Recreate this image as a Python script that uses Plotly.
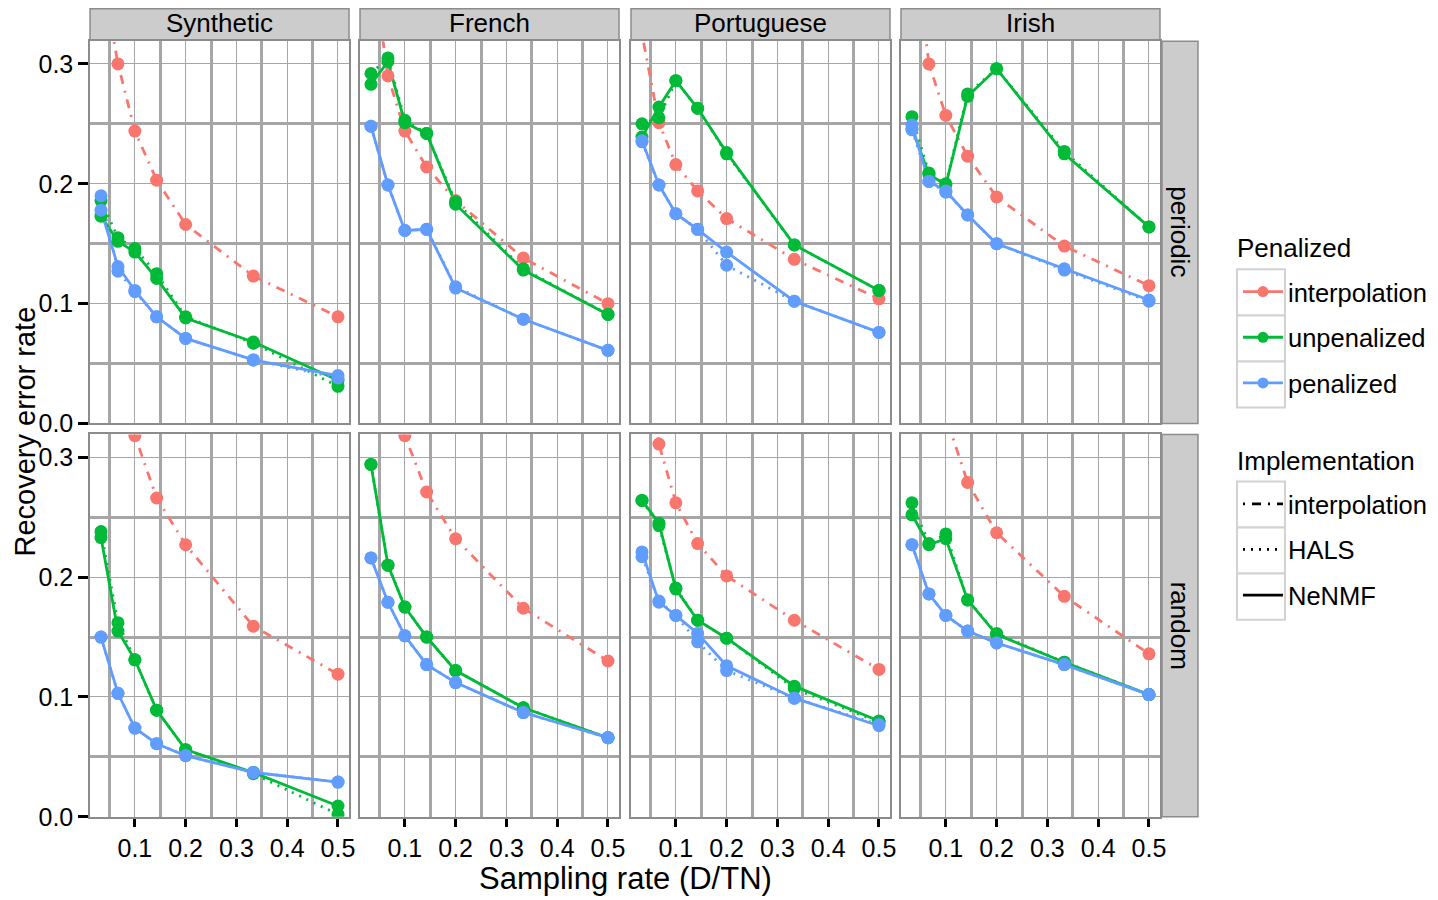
import plotly.graph_objects as go

# sampling rates D/TN
sampling = [0.0333, 0.0667, 0.1, 0.1429, 0.2, 0.3333, 0.5]

datasets = ["Synthetic", "French", "Portuguese", "Irish"]
schemes = ["periodic", "random"]

# --- periodic sampling ---
syn_per_interp = [0.38, 0.300, 0.244, 0.203, 0.166, 0.123, 0.089]
syn_per_unpen_hals = [0.186, 0.155, 0.146, 0.125, 0.089, 0.067, 0.031]
syn_per_unpen_nenmf = [0.173, 0.152, 0.143, 0.121, 0.088, 0.068, 0.036]
syn_per_pen_hals = [0.190, 0.127, 0.110, 0.089, 0.071, 0.053, 0.038]
syn_per_pen_nenmf = [0.178, 0.131, 0.111, 0.089, 0.071, 0.053, 0.040]

fr_per_interp = [0.39, 0.290, 0.244, 0.214, 0.186, 0.138, 0.100]
fr_per_unpen_hals = [0.292, 0.305, 0.253, 0.242, 0.185, 0.129, 0.091]
fr_per_unpen_nenmf = [0.283, 0.302, 0.251, 0.242, 0.183, 0.128, 0.091]
fr_per_pen_hals = [0.248, 0.199, 0.161, 0.162, 0.114, 0.087, 0.061]
fr_per_pen_nenmf = [0.248, 0.199, 0.161, 0.162, 0.113, 0.087, 0.061]

pt_per_interp = [0.325, 0.251, 0.216, 0.194, 0.171, 0.137, 0.104]
pt_per_unpen_hals = [0.250, 0.255, 0.286, 0.263, 0.225, 0.149, 0.111]
pt_per_unpen_nenmf = [0.239, 0.264, 0.286, 0.263, 0.226, 0.149, 0.111]
pt_per_pen_hals = [0.235, 0.199, 0.175, 0.162, 0.132, 0.102, 0.076]
pt_per_pen_nenmf = [0.236, 0.199, 0.175, 0.162, 0.143, 0.102, 0.076]

ir_per_interp = [0.42, 0.300, 0.257, 0.223, 0.189, 0.148, 0.115]
ir_per_unpen_hals = [0.256, 0.209, 0.200, 0.275, 0.296, 0.227, 0.164]
ir_per_unpen_nenmf = [0.246, 0.208, 0.199, 0.273, 0.296, 0.225, 0.164]
ir_per_pen_hals = [0.245, 0.202, 0.193, 0.174, 0.150, 0.128, 0.102]
ir_per_pen_nenmf = [0.249, 0.202, 0.194, 0.174, 0.150, 0.129, 0.103]

# --- random sampling ---
syn_rnd_interp = [0.50, 0.39, 0.318, 0.266, 0.227, 0.159, 0.119]
syn_rnd_unpen_hals = [0.238, 0.162, 0.131, 0.089, 0.056, 0.036, 0.002]
syn_rnd_unpen_nenmf = [0.233, 0.155, 0.131, 0.089, 0.056, 0.037, 0.009]
syn_rnd_pen_hals = [0.150, 0.103, 0.074, 0.061, 0.051, 0.037, 0.029]
syn_rnd_pen_nenmf = [0.150, 0.103, 0.074, 0.061, 0.051, 0.037, 0.029]

fr_rnd_interp = [0.50, 0.39, 0.318, 0.271, 0.232, 0.174, 0.130]
fr_rnd_unpen_hals = [0.294, 0.210, 0.175, 0.150, 0.122, 0.091, 0.066]
fr_rnd_unpen_nenmf = [0.294, 0.210, 0.175, 0.150, 0.122, 0.091, 0.066]
fr_rnd_pen_hals = [0.216, 0.179, 0.151, 0.127, 0.112, 0.087, 0.066]
fr_rnd_pen_nenmf = [0.216, 0.179, 0.151, 0.127, 0.112, 0.087, 0.066]

pt_rnd_interp = [0.42, 0.311, 0.262, 0.228, 0.201, 0.164, 0.123]
pt_rnd_unpen_hals = [0.264, 0.243, 0.191, 0.164, 0.149, 0.107, 0.079]
pt_rnd_unpen_nenmf = [0.264, 0.245, 0.190, 0.164, 0.149, 0.109, 0.080]
pt_rnd_pen_hals = [0.217, 0.180, 0.168, 0.146, 0.122, 0.099, 0.077]
pt_rnd_pen_nenmf = [0.221, 0.179, 0.168, 0.153, 0.126, 0.099, 0.076]

ir_rnd_interp = [0.50, 0.41, 0.334, 0.279, 0.237, 0.184, 0.136]
ir_rnd_unpen_hals = [0.262, 0.228, 0.236, 0.181, 0.153, 0.129, 0.102]
ir_rnd_unpen_nenmf = [0.252, 0.227, 0.232, 0.181, 0.152, 0.129, 0.102]
ir_rnd_pen_hals = [0.227, 0.186, 0.168, 0.155, 0.145, 0.127, 0.102]
ir_rnd_pen_nenmf = [0.227, 0.186, 0.168, 0.155, 0.145, 0.127, 0.102]

panels = [
    [syn_per_interp, syn_per_unpen_hals, syn_per_unpen_nenmf, syn_per_pen_hals, syn_per_pen_nenmf],
    [fr_per_interp, fr_per_unpen_hals, fr_per_unpen_nenmf, fr_per_pen_hals, fr_per_pen_nenmf],
    [pt_per_interp, pt_per_unpen_hals, pt_per_unpen_nenmf, pt_per_pen_hals, pt_per_pen_nenmf],
    [ir_per_interp, ir_per_unpen_hals, ir_per_unpen_nenmf, ir_per_pen_hals, ir_per_pen_nenmf],
    [syn_rnd_interp, syn_rnd_unpen_hals, syn_rnd_unpen_nenmf, syn_rnd_pen_hals, syn_rnd_pen_nenmf],
    [fr_rnd_interp, fr_rnd_unpen_hals, fr_rnd_unpen_nenmf, fr_rnd_pen_hals, fr_rnd_pen_nenmf],
    [pt_rnd_interp, pt_rnd_unpen_hals, pt_rnd_unpen_nenmf, pt_rnd_pen_hals, pt_rnd_pen_nenmf],
    [ir_rnd_interp, ir_rnd_unpen_hals, ir_rnd_unpen_nenmf, ir_rnd_pen_hals, ir_rnd_pen_nenmf],
]

penalized_names = ["interpolation", "unpenalized", "penalized"]
impl_names = ["interpolation", "HALS", "NeNMF"]

# ggplot default hues
RED, GREEN, BLUE = "#F8766D", "#00BA38", "#619CFF"
DOTDASH = "2px,7px,9px,7px"
DOTTED = "2px,6px"
series_style = [(RED, DOTDASH), (GREEN, DOTTED), (GREEN, "solid"), (BLUE, DOTTED), (BLUE, "solid")]

# the page keeps its 8px body margin; the captured page area comes out
# slightly larger than the window, so positions below are given in
# picture pixels and mapped onto the figure
PAGE_MARGIN = 8
CAP_W, CAP_H = 1444, 915
PIC_W, PIC_H = 1438, 900
W, H = CAP_W - 2 * PAGE_MARGIN, CAP_H - 2 * PAGE_MARGIN
FONT = "Liberation Sans, Arial, sans-serif"
GRID = "#a6a6a6"
BORDER = "#8c8c8c"
STRIP = "#cccccc"
KEYBOX = "#d2d2d2"

# panel layout in picture pixels
col_left = [90, 360, 631, 901]
col_w = 259
row_top = [41, 434]
row_h = 382


def fx(p):
    return (p * CAP_W / PIC_W - PAGE_MARGIN) / W


def fy(p):
    return 1 - (p * CAP_H / PIC_H - PAGE_MARGIN) / H


fig = go.Figure()

for k, series in enumerate(panels):
    ax = "" if k == 0 else str(k + 1)
    # lines first, then points on top (like geom_line + geom_point)
    for vals, (col, dash) in zip(series, series_style):
        fig.add_trace(go.Scatter(
            x=sampling, y=vals, mode="lines",
            line=dict(color=col, width=2.8, dash=dash),
            xaxis="x" + ax, yaxis="y" + ax,
            showlegend=False, hoverinfo="skip",
        ))
    for vals, (col, dash) in zip(series, series_style):
        fig.add_trace(go.Scatter(
            x=sampling, y=vals, mode="markers",
            marker=dict(color=col, size=13),
            xaxis="x" + ax, yaxis="y" + ax,
            showlegend=False,
        ))

# legend entries
for name, col in zip(penalized_names, [RED, GREEN, BLUE]):
    fig.add_trace(go.Scatter(
        x=[None], y=[None], mode="lines+markers", name=name,
        line=dict(color=col, width=2.8), marker=dict(color=col, size=11),
        legend="legend", legendgroup="p_" + name,
    ))
for name, dash in zip(impl_names, [DOTDASH, DOTTED, "solid"]):
    fig.add_trace(go.Scatter(
        x=[None], y=[None], mode="lines", name=name,
        line=dict(color="black", width=2.8, dash=dash),
        legend="legend2", legendgroup="i_" + name,
    ))

legend_common = dict(
    font=dict(size=25.5), xanchor="left", yanchor="top",
    bgcolor="rgba(0,0,0,0)", traceorder="grouped", tracegroupgap=9.5, itemwidth=40,
)

layout = dict(
    width=W, height=H,
    margin=dict(l=0, r=0, t=0, b=0),
    paper_bgcolor="white", plot_bgcolor="white",
    font=dict(family=FONT, size=26, color="black"),
    showlegend=True,
    legend=dict(x=fx(1238), y=fy(268.2), **legend_common),
    legend2=dict(x=fx(1238), y=fy(480.2), **legend_common),
)

shapes = []
annotations = []

for k in range(8):
    r, c = divmod(k, 4)
    ax = "" if k == 0 else str(k + 1)
    l = col_left[c]
    t = row_top[r]
    layout["xaxis" + ax] = dict(
        domain=[fx(l), fx(l + col_w)], anchor="y" + ax,
        range=[0.0117, 0.5217], tickmode="linear", tick0=0, dtick=0.1, tickformat=".1f",
        showgrid=True, gridcolor=GRID, gridwidth=1.2,
        minor=dict(tick0=0, dtick=0.05, showgrid=True, gridcolor=GRID, gridwidth=2.8),
        zeroline=False, showline=True, mirror=True, linecolor=BORDER, linewidth=1.5,
        showticklabels=(r == 1), ticks="outside" if r == 1 else "",
        ticklen=8, tickwidth=2.5, tickcolor="black",
        tickfont=dict(size=25, color="black"),
    )
    layout["yaxis" + ax] = dict(
        domain=[fy(t + row_h), fy(t)], anchor="x" + ax,
        range=[0, 0.319], tickmode="linear", tick0=0, dtick=0.1, tickformat=".1f",
        showgrid=True, gridcolor=GRID, gridwidth=1.2,
        minor=dict(tick0=0, dtick=0.05, showgrid=True, gridcolor=GRID, gridwidth=2.8),
        zeroline=False, showline=True, mirror=True, linecolor=BORDER, linewidth=1.5,
        showticklabels=(c == 0), ticks="outside" if c == 0 else "",
        ticklen=10, tickwidth=2.5, tickcolor="black",
        tickfont=dict(size=25, color="black"),
    )

# facet strips
for c, name in enumerate(datasets):
    l = col_left[c]
    shapes.append(dict(type="rect", xref="paper", yref="paper",
                       x0=fx(l), x1=fx(l + col_w), y0=fy(40), y1=fy(8.5),
                       fillcolor=STRIP, line=dict(color=BORDER, width=1.5), layer="below"))
    annotations.append(dict(text=name, xref="paper", yref="paper",
                            x=fx(l + col_w / 2), y=fy(22.5), showarrow=False,
                            font=dict(size=26, color="black"), xanchor="center", yanchor="middle"))
for r, name in enumerate(schemes):
    t = row_top[r]
    shapes.append(dict(type="rect", xref="paper", yref="paper",
                       x0=fx(1162), x1=fx(1198), y0=fy(t + row_h), y1=fy(t),
                       fillcolor=STRIP, line=dict(color=BORDER, width=1.5), layer="below"))
    annotations.append(dict(text=name, xref="paper", yref="paper",
                            x=fx(1180), y=fy(t + row_h / 2), showarrow=False, textangle=90,
                            font=dict(size=26, color="black"), xanchor="center", yanchor="middle"))

# legend titles and key boxes (ggplot style)
for title, ytitle, first in [("Penalized", 248, 269), ("Implementation", 460, 481)]:
    annotations.append(dict(text=title, xref="paper", yref="paper",
                            x=fx(1235), y=fy(ytitle), showarrow=False,
                            font=dict(size=26, color="black"), xanchor="left", yanchor="middle"))
    for i in range(3):
        shapes.append(dict(type="rect", xref="paper", yref="paper",
                           x0=fx(1237), x1=fx(1285),
                           y0=fy(first + 46 * (i + 1)), y1=fy(first + 46 * i),
                           fillcolor="white", line=dict(color=KEYBOX, width=2), layer="below"))

# axis titles
annotations.append(dict(text="Sampling rate (D/TN)", xref="paper", yref="paper",
                        x=fx(625), y=fy(878), showarrow=False,
                        font=dict(size=31, color="black"), xanchor="center", yanchor="middle"))
annotations.append(dict(text="Recovery error rate", xref="paper", yref="paper",
                        x=fx(25), y=fy(431), showarrow=False, textangle=-90,
                        font=dict(size=29, color="black"), xanchor="center", yanchor="middle"))

layout["shapes"] = shapes
layout["annotations"] = annotations
fig.update_layout(**layout)

fig.write_html("out.html", config={"displayModeBar": False})
